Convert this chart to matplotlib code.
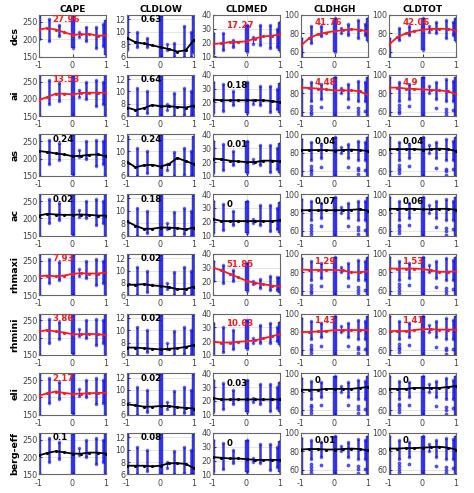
import matplotlib
matplotlib.use("Agg")
import matplotlib.pyplot as plt

ROWS = ["dcs", "ai", "as", "ac", "rhmaxi", "rhmini", "eli", "berg-eff"]
COLS = ["CAPE", "CLDLOW", "CLDMED", "CLDHGH", "CLDTOT"]

# sensitivity score printed in each panel (rows x cols)
SCORES = [
    ["27.96", "0.63", "17.27", "41.76", "42.06"],
    ["13.53", "0.64", "0.18", "4.48", "4.9"],
    ["0.24", "0.24", "0.01", "0.04", "0.04"],
    ["0.02", "0.18", "0", "0.07", "0.06"],
    ["7.93", "0.02", "51.85", "1.29", "1.53"],
    ["3.86", "0.02", "10.63", "1.43", "1.41"],
    ["2.17", "0.02", "0.03", "0", "0"],
    ["0.1", "0.08", "0", "0.01", "0"],
]

# smoothed mean curve, one list per row
FIT_X = [-1, -0.75, -0.5, -0.25, 0, 0.25, 0.5, 0.75, 1]
FIT_CAPE = [
    [228, 232, 228, 220, 213, 214, 215, 210, 211],
    [198, 205, 215, 215, 213, 217, 218, 218, 218],
    [222, 219, 215, 212, 207, 208, 211, 212, 207],
    [208, 213, 211, 210, 210, 211, 210, 208, 208],
    [205, 207, 205, 207, 212, 214, 213, 213, 216],
    [218, 222, 218, 215, 210, 210, 211, 210, 208],
    [205, 212, 217, 213, 210, 211, 212, 213, 213],
    [205, 212, 217, 214, 210, 210, 213, 213, 210],
]
FIT_CLDLOW = [
    [9.0, 8.3, 8.1, 7.8, 7.5, 7.2, 6.8, 7.0, 8.7],
    [7.4, 7.0, 7.3, 7.8, 7.6, 7.6, 7.5, 7.4, 7.7],
    [8.3, 7.4, 7.7, 7.8, 7.5, 7.9, 8.9, 8.4, 7.9],
    [8.3, 7.6, 7.1, 7.1, 7.3, 7.3, 7.2, 7.0, 7.3],
    [7.7, 7.7, 7.8, 7.6, 7.5, 7.3, 7.0, 7.0, 7.4],
    [7.2, 7.2, 7.1, 7.0, 6.9, 7.0, 7.1, 7.3, 7.6],
    [7.7, 7.5, 7.3, 7.3, 7.4, 7.4, 7.2, 7.1, 7.0],
    [7.4, 7.4, 7.4, 7.3, 7.4, 7.8, 7.8, 7.7, 7.0],
]
FIT_CLDMED = [
    [19, 19.5, 20.5, 20.5, 21, 23, 24.5, 25, 26],
    [22, 21.5, 21.5, 21.5, 21.5, 21.5, 21.5, 21, 20],
    [22.5, 22, 21, 20.5, 20, 20, 21, 21, 20.5],
    [22, 20.5, 20.5, 20.5, 20.5, 20.5, 20.5, 20.5, 21],
    [30, 28, 25.5, 23, 20.5, 19, 18, 17, 16.5],
    [19.5, 19, 19, 19.5, 20, 20.5, 22, 23.5, 25],
    [22, 21, 21, 21, 21, 21, 21, 21, 21],
    [22.5, 22, 21.5, 21.5, 21, 20.5, 20.5, 20.5, 20.5],
]
FIT_CLDHGH = [
    [67, 75, 79, 81, 82.5, 83.5, 84.5, 84, 82],
    [86, 85.5, 85, 84, 83, 83, 83, 82, 78],
    [83, 83, 83, 83, 82.5, 83, 83.5, 83, 82],
    [82.5, 82.5, 82.5, 82.5, 82.5, 82.5, 83, 83.5, 82],
    [83, 82.5, 82.5, 82.5, 82.5, 82, 80, 80, 81],
    [80, 80, 80.5, 81, 82, 82, 82, 82, 82],
    [82, 82, 82, 83, 83, 83, 83, 84, 85],
    [82, 82.5, 82.5, 82, 82, 82.5, 83, 82.5, 81],
]
FIT_CLDTOT = [
    [68, 76, 80, 82.5, 84, 85, 85, 85, 83],
    [86, 86, 85, 84.5, 84, 83.5, 83, 82, 79],
    [84, 84, 84, 84, 83.5, 84, 84.5, 84, 82],
    [84, 84, 84, 84, 83.5, 83.5, 84, 84, 83],
    [84, 84, 84, 84, 83.5, 82, 80.5, 80.5, 81],
    [81, 81, 81, 82, 83, 83, 82.5, 82.5, 82.5],
    [83, 83, 83, 84, 84, 84, 84, 85, 86],
    [83, 83, 83.5, 83.5, 84, 84.5, 85, 84, 82],
]
FITS = [FIT_CAPE, FIT_CLDLOW, FIT_CLDMED, FIT_CLDHGH, FIT_CLDTOT]

# ensemble members sit in vertical strips: x position, lowest and highest value
STRIP_X = [-1, -0.7, -0.4, 0, 0.2, 0.4, 0.7, 0.9, 1]
LO_CAPE = [150, 185, 195, 152, 205, 200, 180, 185, 150]
HI_CAPE = [270, 255, 245, 270, 225, 250, 255, 250, 270]
LO_CLDLOW = [6, 6, 6.5, 6, 7, 6, 6.2, 6, 6]
HI_CLDLOW = [12.5, 10.5, 10, 12.7, 8, 9.8, 10.5, 10, 12.5]
LO_CLDMED = [12, 14, 18, 12, 19, 18, 13, 15, 12]
HI_CLDMED = [35, 33, 28, 35, 22, 32, 32, 30, 34]
LO_CLDHGH = [55, 72, 74, 55, 80, 74, 72, 72, 55]
HI_CLDHGH = [95, 92, 90, 97, 86, 90, 93, 92, 97]
LO_CLDTOT = [55, 72, 74, 55, 80, 74, 72, 72, 55]
HI_CLDTOT = [97, 92, 90, 97, 88, 92, 95, 93, 97]
STRIP_LO = [LO_CAPE, LO_CLDLOW, LO_CLDMED, LO_CLDHGH, LO_CLDTOT]
STRIP_HI = [HI_CAPE, HI_CLDLOW, HI_CLDMED, HI_CLDHGH, HI_CLDTOT]

# panels where the strips follow the trend
LO_DCS = [[200, 195, 210, 175, 205, 195, 175, 180, 155],
          [7, 7.5, 7.5, 6, 7, 6, 6, 6, 6.5],
          [12, 15, 17, 13, 19, 18, 16, 17, 14],
          [55, 70, 77, 60, 80, 78, 75, 78, 72],
          [55, 73, 78, 62, 82, 80, 75, 78, 72]]
HI_DCS = [[270, 258, 240, 270, 220, 235, 235, 245, 255],
          [12.5, 10, 9, 12.7, 8, 8.2, 11, 10, 12.5],
          [27, 27, 22, 33, 24, 33, 33, 30, 35],
          [75, 88, 88, 97, 86, 90, 95, 90, 97],
          [75, 86, 88, 97, 88, 92, 95, 92, 97]]
LO_RHMAXI_MED = [20, 19, 20, 13, 18, 15, 14, 14, 12]
HI_RHMAXI_MED = [35, 32, 28, 33, 20, 22, 24, 23, 23]
LO_RHMINI_MED = [11, 12, 14, 14, 19, 19, 19, 20, 17]
HI_RHMINI_MED = [33, 30, 28, 35, 22, 32, 33, 30, 34]

# scattered low cloud-cover members below the strips
EXTRA_X = [-0.7, -0.7, -0.7, -0.7, -0.4, 0.4, 0.7, 0.7, 0.7, 0.9]
EXTRA_HGH = [57, 60, 63, 66, 65, 65, 57, 61, 64, 61]
EXTRA_TOT = [58, 61, 64, 67, 66, 64, 56, 60, 63, 62]

YLIMS = [(150, 270), (6, 12.7), (10, 40), (55, 100), (55, 100)]
YTICKS = [[150, 200, 250], [6, 8, 10, 12], [10, 20, 30, 40], [60, 80, 100], [60, 80, 100]]
TEXT_Y = [0.88, 0.88, 0.75, 0.82, 0.82]

BLUE = "#1010e8"
W, H = 474, 493
fig = plt.figure(figsize=(W / 100, H / 100), dpi=100)
col_left = [39, 127, 213, 301, 389]
ax_w, ax_h = 67, 41.5

for i, row in enumerate(ROWS):
    top = 15 + 59.7 * i
    for j, col in enumerate(COLS):
        ax = fig.add_axes([col_left[j] / W, 1 - (top + ax_h) / H, ax_w / W, ax_h / H])
        lo, hi = STRIP_LO[j], STRIP_HI[j]
        if row == "dcs":
            lo, hi = LO_DCS[j], HI_DCS[j]
        elif row == "rhmaxi" and col == "CLDMED":
            lo, hi = LO_RHMAXI_MED, HI_RHMAXI_MED
        elif row == "rhmini" and col == "CLDMED":
            lo, hi = LO_RHMINI_MED, HI_RHMINI_MED
        for k, x in enumerate(STRIP_X):
            lw = 3.2 if x in (-1, 0, 1) else (1.0 if x == 0.2 else 1.8)
            ax.vlines(x, lo[k], hi[k], color=BLUE, lw=lw, alpha=0.85, zorder=2)
            ax.plot([x, x], [lo[k], hi[k]], ls="none", marker="o", ms=1.6,
                    color=BLUE, alpha=0.5, zorder=2)
        if col in ("CLDHGH", "CLDTOT") and row != "dcs":
            ey = EXTRA_HGH if col == "CLDHGH" else EXTRA_TOT
            ax.plot(EXTRA_X, ey, ls="none", marker="o", ms=1.8, color=BLUE, alpha=0.6)

        s = SCORES[i][j]
        c = "#ff1a1a" if float(s) > 1 else "black"
        ax.plot(FIT_X, FITS[j][i], color=c, lw=1.3, marker=".", ms=2.5, zorder=4)
        ax.text(-0.6, YLIMS[j][0] + TEXT_Y[j] * (YLIMS[j][1] - YLIMS[j][0]), s,
                color=c, fontsize=6.2, fontweight="bold", va="center", zorder=5)

        ax.set_xlim(-1, 1)
        ax.set_ylim(*YLIMS[j])
        ax.set_xticks([-1, 0, 1])
        ax.set_xticklabels(["-1", "0", "1"])
        ax.set_yticks(YTICKS[j])
        ax.grid(True, color="#dcdcdc", lw=0.5)
        ax.set_axisbelow(True)
        ax.tick_params(labelsize=5.8, colors="#444444", length=2, direction="in", pad=1)
        ax.tick_params(axis="x", pad=3)
        for sp in ax.spines.values():
            sp.set_color("#666666")
            sp.set_linewidth(0.8)
        if i == 0:
            ax.set_title(col, fontsize=6.5, fontweight="bold", pad=2)
        if j == 0:
            ax.set_ylabel(row, fontsize=6.8, fontweight="bold", labelpad=2)

fig.savefig("out.png", dpi=100)
